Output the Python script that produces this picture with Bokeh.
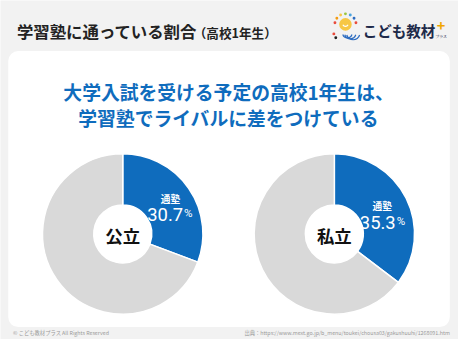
import math
from bokeh.plotting import figure
from bokeh.models import Range1d, ColumnDataSource
from bokeh.core.properties import value
from bokeh.embed import file_html
from bokeh.resources import INLINE

# ---- data ----
school_types = ["公立", "私立"]
juku_rates = [30.7, 35.3]          # % attending cram school (通塾)
slice_label = "通塾"
title_main = "学習塾に通っている割合"
title_sub = "（高校1年生）"
headline = ["大学入試を受ける予定の高校1年生は、", "学習塾でライバルに差をつけている"]
copyright_text = "© こども教材プラス All Rights Reserved"
source_text = "出典：https://www.mext.go.jp/b_menu/toukei/chousa03/gakushuuhi/1268091.htm"

# ---- layout (reference pixel coordinates, y downwards) ----
W, H = 474, 355
FW, FH = 458, 339
S = FW / W
def Y(y):
    return H - y
def fs(px):
    return f"{px * S:.1f}px"

FONT = value("Noto Sans CJK JP")
NUMFONT = value("Roboto")
BLUE = "#0f6cbd"
GRAY = "#d9d9d9"

p = figure(width=FW, height=FH, output_backend="svg", toolbar_location=None,
           x_range=Range1d(0, W), y_range=Range1d(0, H), min_border=0)
p.axis.visible = False
p.grid.visible = False
p.outline_line_color = None
p.background_fill_color = "#f2f2f2"
p.border_fill_color = "#f2f2f2"

# card
p.quad(left=8, right=465, bottom=Y(342), top=Y(53), fill_color="white",
       line_color=None, border_radius=10)

# title
p.text(x=[17], y=[Y(32)], text=[title_main], text_font=FONT, text_font_size=fs(17),
       text_font_style="bold", text_color="#222222", text_baseline="middle")
p.text(x=[200], y=[Y(33)], text=[title_sub], text_font=FONT, text_font_size=fs(13),
       text_font_style="bold", text_color="#222222", text_baseline="middle")

# logo (simple drawing)
sun_x, sun_y = 357, 25
dot_cols = ["#e94b3c", "#f39c12", "#f7c744", "#9bc53d", "#4aa3df", "#2d6cc0", "#e94b3c"]
for i, c in enumerate(dot_cols):
    a = math.pi * (0.95 - i * 0.15)
    p.scatter(x=[sun_x + 11 * math.cos(a)], y=[Y(sun_y) + 11 * math.sin(a)], size=3 * S,
              marker="circle", fill_color=c, line_color=None)
p.circle(x=[sun_x], y=[Y(sun_y)], radius=6.5, fill_color="#f7c744", line_color=None)
p.arc(x=[sun_x], y=[Y(sun_y) + 1], radius=3, start_angle=math.pi * 1.15,
      end_angle=math.pi * 1.85, line_color="white", line_width=1.2)
for k in range(3):
    p.arc(x=[sun_x + 2 + k * 3], y=[Y(34)], radius=5 + k, start_angle=math.pi * 1.1,
          end_angle=math.pi * 1.9, line_color="#2d6cc0", line_width=1.2)
p.scatter(x=[345, 347], y=[Y(35), Y(39)], size=3 * S, marker="circle",
          fill_color=["#e94b3c", "#222222"], line_color=None)
p.text(x=[375], y=[Y(31)], text=["こども教材"], text_font=FONT, text_font_size=fs(15),
       text_font_style="bold", text_color="#1e2a4a", text_baseline="middle")
p.text(x=[456], y=[Y(26)], text=["+"], text_font=FONT, text_font_size=fs(15),
       text_font_style="bold", text_color="#f0a500", text_baseline="middle", text_align="center")
p.text(x=[456], y=[Y(37)], text=["プラス"], text_font=FONT, text_font_size=fs(4),
       text_color="#1e2a4a", text_baseline="middle", text_align="center")

# headline
p.text(x=[236, 236], y=[Y(95), Y(123)], text=headline, text_font=FONT,
       text_font_size=fs(19.5), text_font_style="bold", text_color=BLUE,
       text_baseline="middle", text_align="center")

# donuts
centers_x = [126.5, 345.5]
cy = 244.5
R_out, R_in = 83, 30
label_pos = [(176, 208, 189, 224), (395, 215, 409, 232)]
for cx, name, rate, lp in zip(centers_x, school_types, juku_rates, label_pos):
    frac = rate / 100.0
    start = math.pi / 2
    mid = start - 2 * math.pi * frac
    src = ColumnDataSource(dict(start=[mid, start - 2 * math.pi],
                                end=[start, mid],
                                color=[BLUE, GRAY]))
    p.annular_wedge(x=cx, y=Y(cy), inner_radius=R_in, outer_radius=R_out,
                    start_angle="start", end_angle="end", fill_color="color",
                    line_color="white", line_width=1.5, source=src)
    p.text(x=[cx], y=[Y(cy + 2)], text=[name], text_font=FONT, text_font_size=fs(18),
           text_font_style="bold", text_color="#111111", text_baseline="middle",
           text_align="center")
    lx, ly, nx, ny = lp
    p.text(x=[lx], y=[Y(ly)], text=[slice_label], text_font=FONT, text_font_size=fs(10),
           text_font_style="bold", text_color="white", text_baseline="middle",
           text_align="center")
    p.text(x=[nx], y=[Y(ny)], text=[f"{rate:.1f}"], text_font=NUMFONT, text_font_size=fs(19),
           text_color="white", text_baseline="middle", text_align="right")
    p.text(x=[nx + 1], y=[Y(ny - 1)], text=["%"], text_font=NUMFONT, text_font_size=fs(12),
           text_color="white", text_baseline="middle", text_align="left")

# footer
p.text(x=[13], y=[Y(348)], text=[copyright_text], text_font=FONT, text_font_size=fs(5.5),
       text_color="#9a9a9a", text_baseline="middle")
p.text(x=[465], y=[Y(348)], text=[source_text], text_font=FONT, text_font_size=fs(5.5),
       text_color="#9a9a9a", text_baseline="middle", text_align="right")

open("out.html", "w").write(file_html(p, INLINE))
